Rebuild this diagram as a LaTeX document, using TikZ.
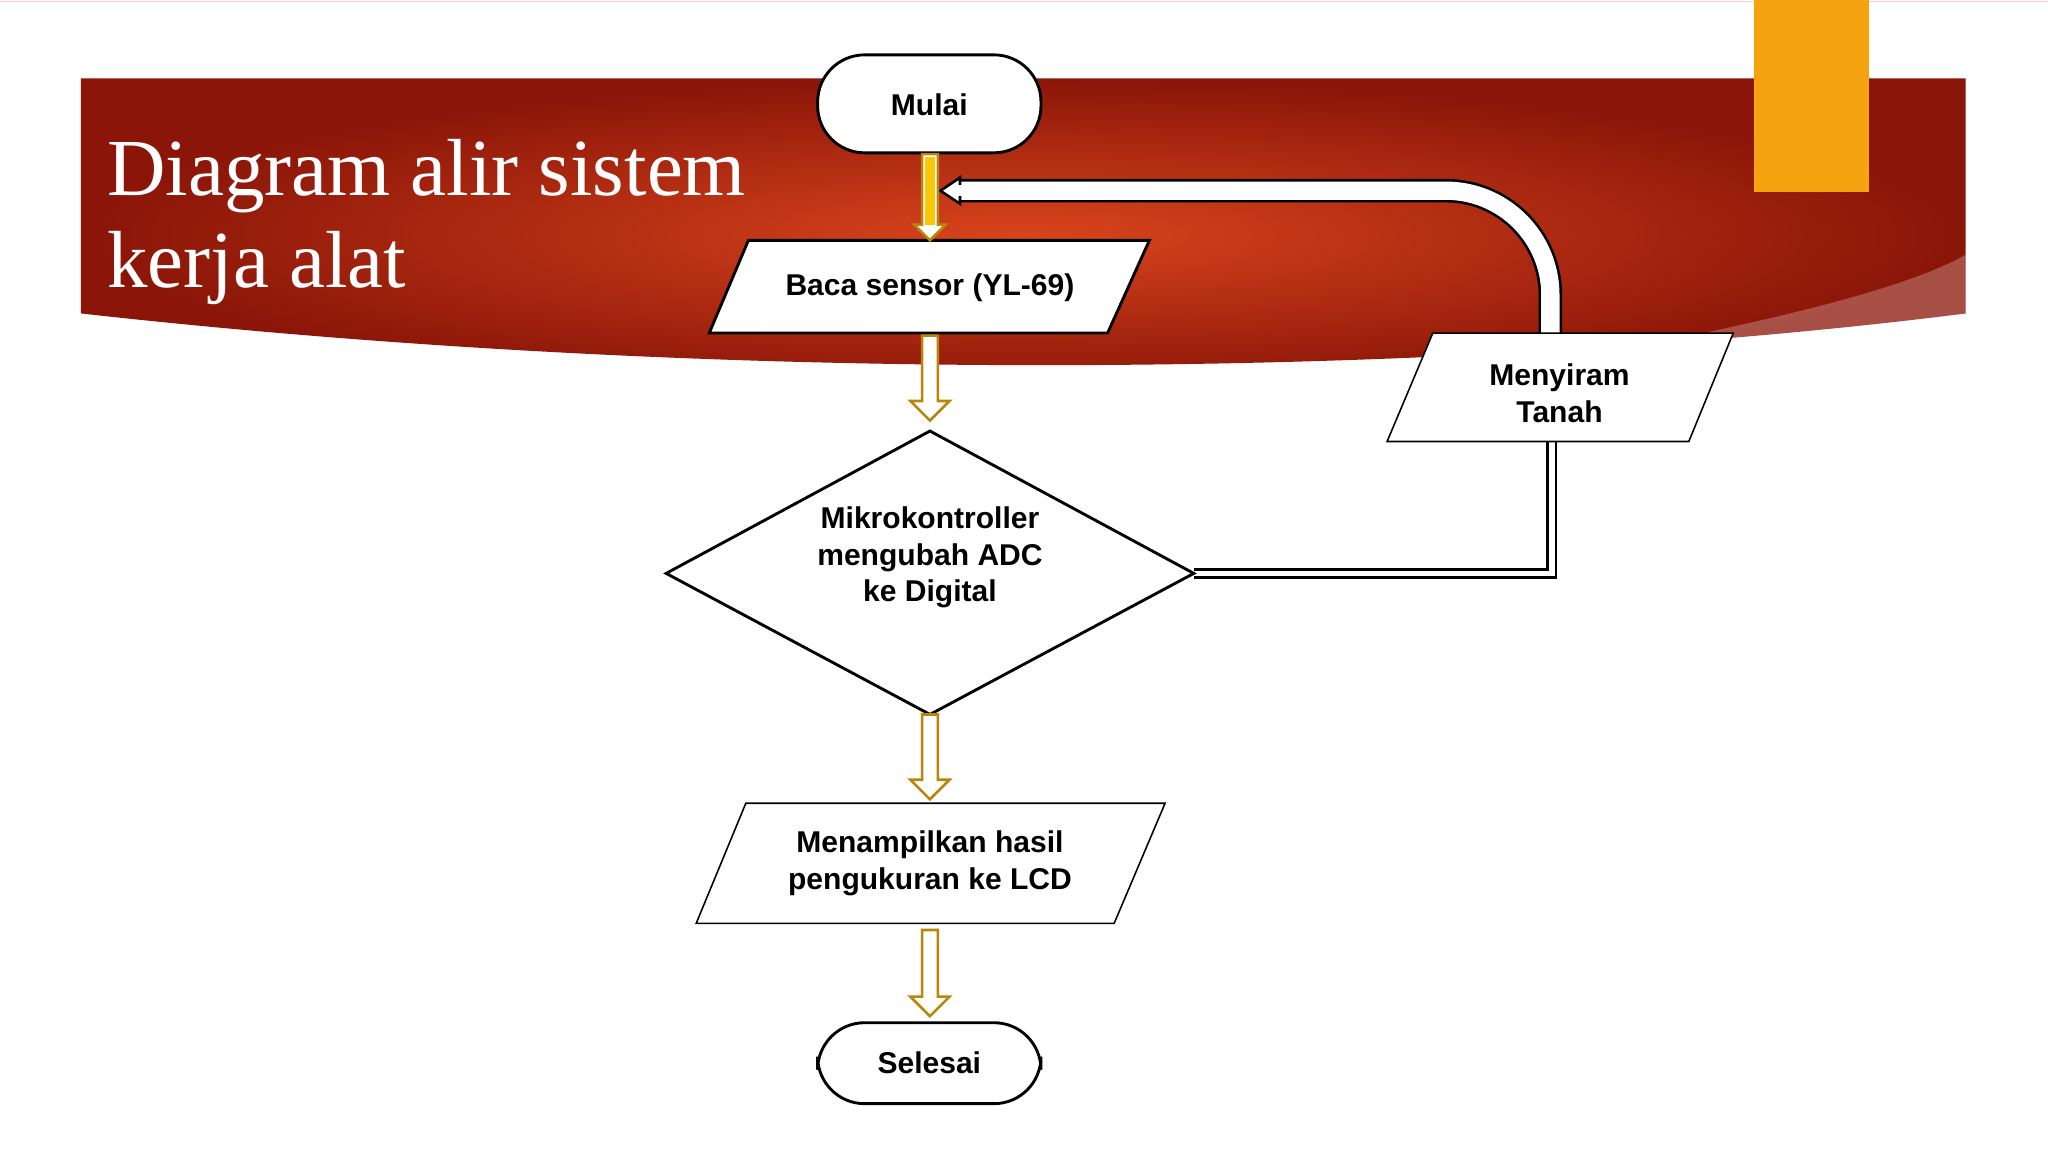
\documentclass[tikz,border=0pt]{standalone}
\usepackage{fontspec}
\setmainfont{Liberation Sans}
\newfontfamily\titlefont{Liberation Serif}
\begin{document}
\begin{tikzpicture}[x=0.5pt,y=-0.5pt,
  lbl/.style={font=\bfseries\fontsize{11.5}{14}\selectfont,align=center,text=black},
  shp/.style={draw=black,fill=white,line width=0.6pt},
  thick shp/.style={draw=black,fill=white,line width=1.1pt},
  barrow/.style={draw=arrowgold,fill=white,line width=1pt}]
\definecolor{arrowgold}{HTML}{B8860B}
\definecolor{bannerdark}{HTML}{8A1508}
\definecolor{bannermid}{HTML}{D8441C}
\definecolor{orangebox}{HTML}{F5A30F}
\useasboundingbox (0,0) rectangle (1568,882);
\fill[white] (0,0) rectangle (1568,882);
\draw[red!20,line width=0.5pt] (0,1) -- (1568,1);
% banner
\shade[inner color=bannermid,outer color=bannerdark]
  (62,60) -- (1505,60) -- (1505,240) .. controls (1150,285) and (600,300) .. (62,240) -- cycle;
\fill[white,opacity=0.25] (1290,258) .. controls (1400,235) and (1470,215) .. (1505,195) -- (1505,240) .. controls (1450,250) and (1380,255) .. (1290,262) -- cycle;
\fill[orangebox] (1343,0) rectangle (1431,147);
\node[anchor=base west,text=white,font=\titlefont\fontsize{31}{35}\selectfont,align=left] (title) at (75,150) {Diagram alir sistem};
\node[anchor=base west,text=white,font=\titlefont\fontsize{31}{35}\selectfont] (title2) at (75,220) {kerja alat};
% pipes
\draw[black,line width=9pt,rounded corners=40pt] (1187,256) |- (735,146);
\draw[white,line width=7pt,rounded corners=40pt] (1187,258) |- (733,146);
\filldraw[fill=white,draw=black,line width=1pt] (735,136) -- (720,146) -- (735,156) -- cycle;
\fill[white] (733,142) rectangle (745,150);
\draw[black,line width=4pt] (914,439) -- (1188,439) -- (1188,337);
\draw[white,line width=2.2pt] (912,439) -- (1188,439) -- (1188,336);
% nodes
\draw[thick shp,rounded corners=18pt] (626,42) rectangle (797,117);
\node[lbl] (mulai) at (711.5,80) {Mulai};
\draw[thick shp] (573,184) -- (880,184) -- (848,255) -- (543,255) -- cycle;
\node[lbl] (baca) at (712,220) {Baca sensor (YL-69)};
\draw[thick shp] (510,439) -- (712,330) -- (914,439) -- (712,547) -- cycle;
\node[lbl] (mikro) at (712,427) {Mikrokontroller\\mengubah ADC\\ke Digital};
\draw[shp] (1097,255) -- (1327,255) -- (1293,338) -- (1062,338) -- cycle;
\node[lbl] (siram) at (1194,301) {Menyiram\\Tanah};
\draw[shp] (571,615) -- (892,615) -- (853,707) -- (533,707) -- cycle;
\node[lbl] (lcd) at (712,661) {Menampilkan hasil\\pengukuran ke LCD};
\draw[thick shp,rounded corners=18pt] (626,783) rectangle (797,845);
\node[lbl] (selesai) at (711.5,814) {Selesai};
% block arrows
\filldraw[fill=white,draw=arrowgold,line width=1pt] (706,118) -- (718,118) -- (718,172) -- (724,172) -- (712,184) -- (700,172) -- (706,172) -- cycle;
\fill[yellow!60!orange] (708,120) rectangle (716,172);
\foreach \a/\b in {257/322, 547/612, 712/778}{
  \draw[barrow] (706,\a) -- (718,\a) -- (718,\b-15) -- (727,\b-15) -- (712,\b) -- (697,\b-15) -- (706,\b-15) -- cycle;
}
\end{tikzpicture}
\end{document}
